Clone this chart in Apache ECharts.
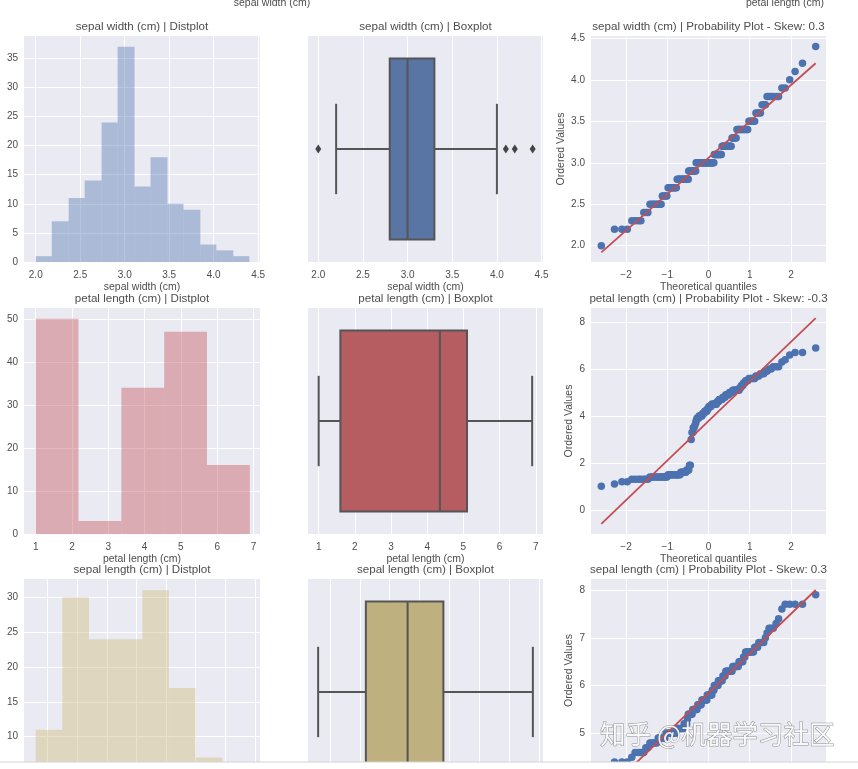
<!DOCTYPE html>
<html>
<head>
    <meta charset="utf-8">
    <style>
        html, body {
            height: 100%;
            background: #fff;
        }

        * {
            margin: 0;
            padding: 0;
        }

        #container {
            width: 858px;
            height: 769px;
            overflow: hidden;
        }
    </style>
</head>
<body>
<div id="container"></div>
<script type="text/javascript" src="https://cdn.jsdelivr.net/npm/echarts/dist/echarts.min.js"></script>
<script type="text/javascript">
    // histogram bins
    let widthEdges = [2.0, 2.18, 2.37, 2.55, 2.74, 2.92, 3.11, 3.29, 3.48, 3.66, 3.85, 4.03, 4.22, 4.4];
    let widthCounts = [1, 7, 11, 14, 24, 37, 13, 18, 10, 9, 3, 2, 1];
    let petalEdges = [1.0, 2.18, 3.36, 4.54, 5.72, 6.9];
    let petalCounts = [50, 3, 34, 47, 16];
    let lengthEdges = [4.3, 4.75, 5.2, 5.65, 6.1, 6.55, 7.0, 7.45, 7.9];
    let lengthCounts = [11, 30, 24, 24, 31, 17, 7, 6];

    // low whisker, q1, median, q3, high whisker
    let widthBox = [2.2, 2.8, 3.0, 3.3, 4.0];
    let petalBox = [1.0, 1.6, 4.35, 5.1, 6.9];
    let lengthBox = [4.3, 5.1, 5.8, 6.4, 7.9];
    let widthOutliers = [2.0, 4.1, 4.2, 4.4];

    // theoretical quantiles, 150 points
    let quantiles = [
        -2.60, -2.28, -2.10, -1.97, -1.86, -1.78, -1.70, -1.64, -1.57, -1.52,
        -1.47, -1.42, -1.38, -1.34, -1.30, -1.26, -1.22, -1.19, -1.15, -1.12,
        -1.09, -1.06, -1.03, -1.01, -0.98, -0.95, -0.93, -0.90, -0.88, -0.85,
        -0.83, -0.80, -0.78, -0.76, -0.74, -0.72, -0.69, -0.67, -0.65, -0.63,
        -0.61, -0.59, -0.57, -0.55, -0.53, -0.51, -0.49, -0.48, -0.46, -0.44,
        -0.42, -0.40, -0.38, -0.37, -0.35, -0.33, -0.31, -0.30, -0.28, -0.26,
        -0.24, -0.23, -0.21, -0.19, -0.18, -0.16, -0.14, -0.13, -0.11, -0.09,
        -0.08, -0.06, -0.04, -0.03, -0.01, 0.01, 0.03, 0.04, 0.06, 0.08,
        0.09, 0.11, 0.13, 0.14, 0.16, 0.18, 0.19, 0.21, 0.23, 0.24,
        0.26, 0.28, 0.30, 0.31, 0.33, 0.35, 0.37, 0.38, 0.40, 0.42,
        0.44, 0.46, 0.48, 0.49, 0.51, 0.53, 0.55, 0.57, 0.59, 0.61,
        0.63, 0.65, 0.67, 0.69, 0.72, 0.74, 0.76, 0.78, 0.80, 0.83,
        0.85, 0.88, 0.90, 0.93, 0.95, 0.98, 1.01, 1.03, 1.06, 1.09,
        1.12, 1.15, 1.19, 1.22, 1.26, 1.30, 1.34, 1.38, 1.42, 1.47,
        1.52, 1.57, 1.64, 1.70, 1.78, 1.86, 1.97, 2.10, 2.28, 2.60
    ];

    // ordered values
    let widthSorted = [
        2.0, 2.2, 2.2, 2.2, 2.3, 2.3, 2.3, 2.3, 2.4, 2.4,
        2.4, 2.5, 2.5, 2.5, 2.5, 2.5, 2.5, 2.5, 2.5, 2.6,
        2.6, 2.6, 2.6, 2.6, 2.7, 2.7, 2.7, 2.7, 2.7, 2.7,
        2.7, 2.7, 2.7, 2.8, 2.8, 2.8, 2.8, 2.8, 2.8, 2.8,
        2.8, 2.8, 2.8, 2.8, 2.8, 2.8, 2.8, 2.9, 2.9, 2.9,
        2.9, 2.9, 2.9, 2.9, 2.9, 2.9, 2.9, 3.0, 3.0, 3.0,
        3.0, 3.0, 3.0, 3.0, 3.0, 3.0, 3.0, 3.0, 3.0, 3.0,
        3.0, 3.0, 3.0, 3.0, 3.0, 3.0, 3.0, 3.0, 3.0, 3.0,
        3.0, 3.0, 3.0, 3.1, 3.1, 3.1, 3.1, 3.1, 3.1, 3.1,
        3.1, 3.1, 3.1, 3.1, 3.2, 3.2, 3.2, 3.2, 3.2, 3.2,
        3.2, 3.2, 3.2, 3.2, 3.2, 3.2, 3.2, 3.3, 3.3, 3.3,
        3.3, 3.3, 3.3, 3.4, 3.4, 3.4, 3.4, 3.4, 3.4, 3.4,
        3.4, 3.4, 3.4, 3.4, 3.4, 3.5, 3.5, 3.5, 3.5, 3.5,
        3.5, 3.6, 3.6, 3.6, 3.6, 3.7, 3.7, 3.7, 3.8, 3.8,
        3.8, 3.8, 3.8, 3.8, 3.9, 3.9, 4.0, 4.1, 4.2, 4.4
    ];
    let petalSorted = [
        1.0, 1.1, 1.2, 1.2, 1.3, 1.3, 1.3, 1.3, 1.3, 1.3,
        1.3, 1.4, 1.4, 1.4, 1.4, 1.4, 1.4, 1.4, 1.4, 1.4,
        1.4, 1.4, 1.4, 1.4, 1.5, 1.5, 1.5, 1.5, 1.5, 1.5,
        1.5, 1.5, 1.5, 1.5, 1.5, 1.5, 1.5, 1.6, 1.6, 1.6,
        1.6, 1.6, 1.6, 1.6, 1.7, 1.7, 1.7, 1.7, 1.9, 1.9,
        3.0, 3.3, 3.3, 3.5, 3.5, 3.6, 3.7, 3.8, 3.9, 3.9,
        3.9, 4.0, 4.0, 4.0, 4.0, 4.0, 4.1, 4.1, 4.1, 4.2,
        4.2, 4.2, 4.2, 4.3, 4.3, 4.4, 4.4, 4.4, 4.4, 4.5,
        4.5, 4.5, 4.5, 4.5, 4.5, 4.5, 4.5, 4.6, 4.6, 4.6,
        4.7, 4.7, 4.7, 4.7, 4.7, 4.8, 4.8, 4.8, 4.8, 4.9,
        4.9, 4.9, 4.9, 4.9, 5.0, 5.0, 5.0, 5.0, 5.1, 5.1,
        5.1, 5.1, 5.1, 5.1, 5.1, 5.1, 5.2, 5.2, 5.3, 5.3,
        5.4, 5.4, 5.5, 5.5, 5.5, 5.6, 5.6, 5.6, 5.6, 5.6,
        5.6, 5.7, 5.7, 5.7, 5.8, 5.8, 5.8, 5.9, 5.9, 6.0,
        6.0, 6.1, 6.1, 6.1, 6.3, 6.4, 6.6, 6.7, 6.7, 6.9
    ];
    let lengthSorted = [
        4.3, 4.4, 4.4, 4.4, 4.5, 4.6, 4.6, 4.6, 4.6, 4.7,
        4.7, 4.8, 4.8, 4.8, 4.8, 4.8, 4.9, 4.9, 4.9, 4.9,
        4.9, 4.9, 5.0, 5.0, 5.0, 5.0, 5.0, 5.0, 5.0, 5.0,
        5.0, 5.0, 5.1, 5.1, 5.1, 5.1, 5.1, 5.1, 5.1, 5.1,
        5.1, 5.2, 5.2, 5.2, 5.2, 5.3, 5.4, 5.4, 5.4, 5.4,
        5.4, 5.4, 5.5, 5.5, 5.5, 5.5, 5.5, 5.5, 5.5, 5.6,
        5.6, 5.6, 5.6, 5.6, 5.6, 5.7, 5.7, 5.7, 5.7, 5.7,
        5.7, 5.7, 5.7, 5.8, 5.8, 5.8, 5.8, 5.8, 5.8, 5.8,
        5.9, 5.9, 5.9, 6.0, 6.0, 6.0, 6.0, 6.0, 6.0, 6.1,
        6.1, 6.1, 6.1, 6.1, 6.1, 6.2, 6.2, 6.2, 6.2, 6.3,
        6.3, 6.3, 6.3, 6.3, 6.3, 6.3, 6.3, 6.3, 6.4, 6.4,
        6.4, 6.4, 6.4, 6.4, 6.4, 6.5, 6.5, 6.5, 6.5, 6.5,
        6.6, 6.6, 6.7, 6.7, 6.7, 6.7, 6.7, 6.7, 6.7, 6.7,
        6.8, 6.8, 6.8, 6.9, 6.9, 6.9, 6.9, 7.0, 7.1, 7.2,
        7.2, 7.2, 7.3, 7.4, 7.6, 7.7, 7.7, 7.7, 7.7, 7.9
    ];

    // fit lines, [x, y] at both ends
    let widthFit = [[-2.6, 1.92], [2.6, 4.2]];
    let petalFit = [[-2.6, -0.6], [2.6, 8.17]];
    let lengthFit = [[-2.6, 3.68], [2.6, 8.0]];

    // tick labels
    let widthTicks = [2.0, 2.5, 3.0, 3.5, 4.0, 4.5];
    let petalTicks = [1, 2, 3, 4, 5, 6, 7];
    let lengthTicks = [4.5, 5.0, 5.5, 6.0, 6.5, 7.0, 7.5, 8.0];
    let quantileTicks = [-2, -1, 0, 1, 2];

    let blue = '#4c72b0', red = '#c44e52', sand = '#ccb974';
    let textColor = '#4d4d4d';
    let fontName = 'Liberation Sans';

    // panels in pixels, the last row stops at the cut edge of the picture
    let colX = [[24, 260], [308, 543], [591, 826]];
    let rowY = [[36, 262], [308, 534], [579, 762]];

    let grids = [], xAxes = [], yAxes = [], series = [], titles = [];

    function addPanel(row, col, titleText, xCfg, yCfg) {
        let x = colX[col], y = rowY[row];
        let idx = grids.length;
        grids.push({
            show: true, left: x[0], width: x[1] - x[0], top: y[0], height: y[1] - y[0],
            backgroundColor: '#eaeaf2', borderWidth: 0
        });
        titles.push({
            text: titleText, left: (x[0] + x[1]) / 2, top: y[0] - 15, textAlign: 'center', padding: 0,
            textStyle: {fontFamily: fontName, fontSize: 11.6, fontWeight: 'normal', color: textColor}
        });
        xAxes.push(makeAxis(idx, 'x', xCfg));
        yAxes.push(makeAxis(idx, 'y', yCfg));
        return idx;
    }

    function makeAxis(idx, kind, cfg) {
        return {
            type: 'value', gridIndex: idx, min: cfg.min, max: cfg.max, scale: true,
            show: cfg.hidden ? false : true,
            name: cfg.name || '', nameLocation: 'middle', nameGap: cfg.nameGap || 20,
            nameTextStyle: {fontFamily: fontName, fontSize: 10.5, color: textColor},
            axisLine: {show: false},
            axisTick: {show: false, customValues: cfg.ticks},
            axisLabel: {
                show: !cfg.noLabel, customValues: cfg.ticks, margin: kind === 'x' ? 8 : 6,
                fontFamily: fontName, fontSize: 10, color: textColor,
                showMinLabel: true, showMaxLabel: true, hideOverlap: false,
                formatter: function (v) {
                    let s = cfg.digits ? v.toFixed(cfg.digits) : String(v);
                    return s.replace('-', '\u2212');
                }
            },
            splitLine: {show: !cfg.noSplit, lineStyle: {color: '#fff', width: 1}}
        };
    }

    function addHist(idx, edges, counts, color) {
        let data = counts.map(function (c, i) {
            return [edges[i], edges[i + 1], c];
        });
        series.push({
            type: 'custom', xAxisIndex: idx, yAxisIndex: idx, data: data, clip: true,
            renderItem: function (params, api) {
                let a = api.coord([api.value(0), api.value(2)]);
                let b = api.coord([api.value(1), 0]);
                return {
                    type: 'rect',
                    shape: {x: a[0], y: a[1], width: b[0] - a[0], height: b[1] - a[1]},
                    style: {fill: color, opacity: 0.4}
                };
            }
        });
    }

    function addBox(idx, box, color) {
        series.push({
            type: 'custom', xAxisIndex: idx, yAxisIndex: idx, data: [box], clip: false,
            renderItem: function (params, api) {
                let p = function (v, y) {
                    return api.coord([v, y]);
                };
                let line = function (a, b) {
                    return {
                        type: 'line',
                        shape: {x1: a[0], y1: a[1], x2: b[0], y2: b[1]},
                        style: {stroke: '#555', lineWidth: 2}
                    };
                };
                let tl = p(api.value(1), 0.4), br = p(api.value(3), -0.4);
                return {
                    type: 'group',
                    children: [
                        line(p(api.value(0), 0), p(api.value(1), 0)),
                        line(p(api.value(3), 0), p(api.value(4), 0)),
                        line(p(api.value(0), -0.2), p(api.value(0), 0.2)),
                        line(p(api.value(4), -0.2), p(api.value(4), 0.2)),
                        {
                            type: 'rect',
                            shape: {x: tl[0], y: tl[1], width: br[0] - tl[0], height: br[1] - tl[1]},
                            style: {fill: color, stroke: '#555', lineWidth: 2}
                        },
                        line(p(api.value(2), -0.4), p(api.value(2), 0.4))
                    ]
                };
            }
        });
    }

    function addProb(idx, sorted, fit) {
        series.push({
            type: 'scatter', xAxisIndex: idx, yAxisIndex: idx, symbolSize: 7.5, clip: false,
            itemStyle: {color: blue, opacity: 1},
            data: quantiles.map(function (q, i) {
                return [q, sorted[i]];
            })
        });
        series.push({
            type: 'line', xAxisIndex: idx, yAxisIndex: idx, data: fit, showSymbol: false, z: 5,
            lineStyle: {color: red, width: 1.8}
        });
    }

    let boxY = {hidden: true, min: -0.5, max: 0.5, ticks: [], noSplit: true};
    let boxYCut = {hidden: true, min: -0.31, max: 0.5, ticks: [], noSplit: true};

    // row 1, sepal width
    let p = addPanel(0, 0, 'sepal width (cm) | Distplot',
        {min: 1.868, max: 4.52, ticks: widthTicks, digits: 1, name: 'sepal width (cm)'},
        {min: 0, max: 38.85, ticks: [0, 5, 10, 15, 20, 25, 30, 35]});
    addHist(p, widthEdges, widthCounts, blue);
    p = addPanel(0, 1, 'sepal width (cm) | Boxplot',
        {min: 1.885, max: 4.516, ticks: widthTicks, digits: 1, name: 'sepal width (cm)'}, boxY);
    addBox(p, widthBox, '#5975a4');
    series.push({
        type: 'scatter', xAxisIndex: p, yAxisIndex: p, symbol: 'diamond', symbolSize: [6, 9],
        itemStyle: {color: '#444', opacity: 1},
        data: widthOutliers.map(function (v) {
            return [v, 0];
        })
    });
    p = addPanel(0, 2, 'sepal width (cm) | Probability Plot - Skew: 0.3',
        {min: -2.85, max: 2.85, ticks: quantileTicks, name: 'Theoretical quantiles'},
        {min: 1.804, max: 4.528, ticks: widthTicks, digits: 1, name: 'Ordered Values', nameGap: 24});
    addProb(p, widthSorted, widthFit);

    // row 2, petal length
    p = addPanel(1, 0, 'petal length (cm) | Distplot',
        {min: 0.678, max: 7.18, ticks: petalTicks, name: 'petal length (cm)'},
        {min: 0, max: 52.5, ticks: [0, 10, 20, 30, 40, 50]});
    addHist(p, petalEdges, petalCounts, red);
    p = addPanel(1, 1, 'petal length (cm) | Boxplot',
        {min: 0.705, max: 7.2, ticks: petalTicks, name: 'petal length (cm)'}, boxY);
    addBox(p, petalBox, '#b55d60');
    p = addPanel(1, 2, 'petal length (cm) | Probability Plot - Skew: -0.3',
        {min: -2.85, max: 2.85, ticks: quantileTicks, name: 'Theoretical quantiles'},
        {min: -1.03, max: 8.6, ticks: [0, 2, 4, 6, 8], name: 'Ordered Values', nameGap: 16});
    addProb(p, petalSorted, petalFit);

    // row 3, sepal length, runs off the bottom of the picture
    p = addPanel(2, 0, 'sepal length (cm) | Distplot',
        {min: 4.103, max: 8.086, ticks: lengthTicks, noLabel: true},
        {min: 6.37, max: 32.63, ticks: [10, 15, 20, 25, 30]});
    addHist(p, lengthEdges, lengthCounts, sand);
    p = addPanel(2, 1, 'sepal length (cm) | Boxplot',
        {min: 4.13, max: 8.07, ticks: lengthTicks, noLabel: true}, boxYCut);
    addBox(p, lengthBox, '#bfb07f');
    p = addPanel(2, 2, 'sepal length (cm) | Probability Plot - Skew: 0.3',
        {min: -2.85, max: 2.85, ticks: quantileTicks, noLabel: true},
        {min: 4.4, max: 8.23, ticks: [5, 6, 7, 8], name: 'Ordered Values', nameGap: 16});
    addProb(p, lengthSorted, lengthFit);

    // labels cut by the top edge
    titles.push({
        text: 'sepal width (cm)', left: 272, top: -2, textAlign: 'center', padding: 0,
        textStyle: {fontFamily: fontName, fontSize: 10.5, fontWeight: 'normal', color: textColor}
    });
    titles.push({
        text: 'petal length (cm)', left: 785, top: -2, textAlign: 'center', padding: 0,
        textStyle: {fontFamily: fontName, fontSize: 10.5, fontWeight: 'normal', color: textColor}
    });

    let dom = document.getElementById("container");
    let myChart = echarts.init(dom);
    let option = {
        animation: false,
        backgroundColor: '#fff',
        title: titles,
        grid: grids,
        xAxis: xAxes,
        yAxis: yAxes,
        series: series,
        graphic: [
            {
                type: 'rect', z: 100, silent: true,
                shape: {x: -2, y: 762, width: 862, height: 12},
                style: {fill: '#fff', stroke: '#d4d4d4', lineWidth: 1}
            },
            {
                type: 'text', z: 100, silent: true, x: 600, y: 721,
                style: {
                    text: '知乎 @机器学习社区',
                    font: '25.6px "Noto Sans CJK SC"',
                    fill: 'rgba(255,255,255,0.9)',
                    stroke: 'rgba(80,80,80,0.6)',
                    lineWidth: 1
                }
            }
        ]
    };
    myChart.setOption(option, true);
</script>
</body>
</html>
